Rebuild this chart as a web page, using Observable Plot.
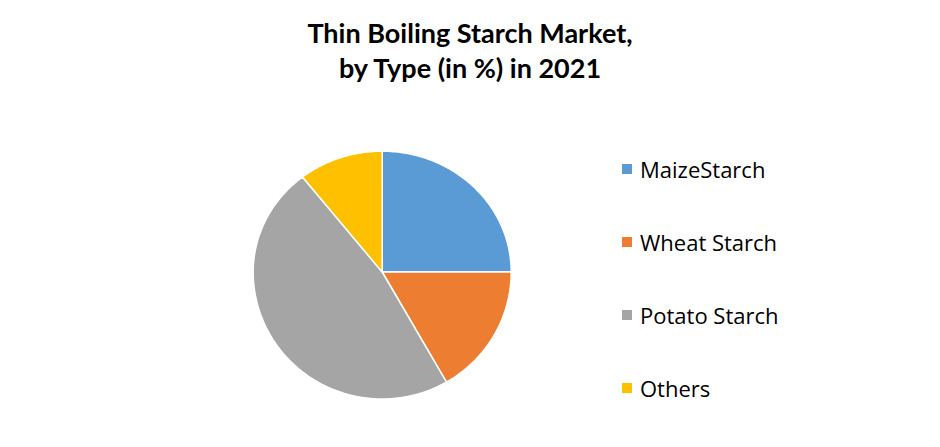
<!DOCTYPE html>
<html>
<head>
<meta charset="utf-8">
<script src="https://cdn.jsdelivr.net/npm/d3@7"></script>
<script src="https://cdn.jsdelivr.net/npm/@observablehq/plot@0.6"></script>
<style>
  html, body { margin: 0; padding: 0; background: #fff; }
  #page { position: relative; width: 940px; height: 447px; overflow: hidden; background: #fff; }
  #title { position: absolute; left: 0; top: 15px; width: 940px; text-align: center;
           font-family: Lato, "Open Sans", sans-serif; font-weight: 700; font-size: 27px;
           line-height: 35px; color: #000; }
  #chart { position: absolute; left: 0; top: 100px; width: 940px; height: 347px; }
  #chart svg { display: block; }
  #legend { position: absolute; left: 622px; top: 132px; font-family: "Open Sans", sans-serif;
            font-size: 22px; color: #000; }
  .item { height: 73px; display: flex; align-items: center; }
  .sw { width: 10px; height: 10px; margin-right: 8px; }
</style>
</head>
<body>
<div id="page">
  <div id="title"></div>
  <div id="chart"></div>
  <div id="legend"></div>
</div>
<script>
const titleLines = ["Thin Boiling Starch Market,", "by Type (in %) in 2021"];
const types = ["MaizeStarch", "Wheat Starch", "Potato Starch", "Others"];
const shares = [25, 16.7, 47.7, 10.6];
const colors = ["#5B9BD5", "#ED7D31", "#A5A5A5", "#FFC000"];

document.getElementById("title").innerHTML = titleLines.join("<br>");

const legend = document.getElementById("legend");
types.forEach((t, i) => {
  const row = document.createElement("div");
  row.className = "item";
  row.innerHTML = `<div class="sw" style="background:${colors[i]}"></div><span>${t}</span>`;
  legend.appendChild(row);
});

// slice outlines from d3.pie angles (0 = 12 o'clock, clockwise)
const arcs = d3.pie().sort(null).value(d => d.value)(types.map((t, i) => ({type: t, value: shares[i]})));
const slicePts = [];
for (const a of arcs) {
  slicePts.push({type: a.data.type, x: 0, y: 0});
  const n = Math.max(2, Math.ceil((a.endAngle - a.startAngle) / (Math.PI / 180)));
  for (let k = 0; k <= n; k++) {
    const ang = a.startAngle + (a.endAngle - a.startAngle) * k / n;
    slicePts.push({type: a.data.type, x: Math.sin(ang), y: Math.cos(ang)});
  }
}
const disc = d3.range(0, 360, 2).map(d => ({x: Math.sin(d * Math.PI / 180), y: Math.cos(d * Math.PI / 180)}));
// drop shadow: the same disc shifted slightly downward
const shadowDisc = disc.map(d => ({x: d.x * 0.99, y: d.y - 0.035}));

const plot = Plot.plot({
  width: 940,
  height: 347,
  margin: 0,
  x: {type: "linear", domain: [-1, 1], range: [252.7, 510.7], axis: null},
  y: {type: "linear", domain: [-1, 0, 1], range: [298.5, 171.5, 50.7], axis: null},
  color: {domain: types, range: colors},
  marks: [
    Plot.line(shadowDisc, {x: "x", y: "y", curve: "linear-closed", fill: "#505050", stroke: "#8a8a8a", strokeWidth: 1, ariaLabel: "shadow"}),
    Plot.line(slicePts, {x: "x", y: "y", z: "type", fill: "type", curve: "linear-closed", stroke: "white", strokeWidth: 1.5, strokeLinejoin: "round"}),
    Plot.line(disc, {x: "x", y: "y", curve: "linear-closed", fill: "black", fillOpacity: 0.05, stroke: "none", ariaLabel: "shade"})
  ]
});

const ns = "http://www.w3.org/2000/svg";
const defs = document.createElementNS(ns, "defs");
defs.innerHTML = `
  <linearGradient id="pieShade" x1="0" y1="0" x2="1" y2="1">
    <stop offset="0" stop-color="#ffffff" stop-opacity="0.02"/>
    <stop offset="1" stop-color="#000000" stop-opacity="0.09"/>
  </linearGradient>`;
plot.insertBefore(defs, plot.firstChild);
const shadeG = plot.querySelector('g[aria-label="shade"]');
if (shadeG) {
  shadeG.setAttribute("fill", "url(#pieShade)");
  shadeG.removeAttribute("fill-opacity");
  shadeG.querySelectorAll("path").forEach(p => { p.setAttribute("fill", "url(#pieShade)"); p.removeAttribute("fill-opacity"); });
}
document.getElementById("chart").appendChild(plot);
</script>
</body>
</html>
